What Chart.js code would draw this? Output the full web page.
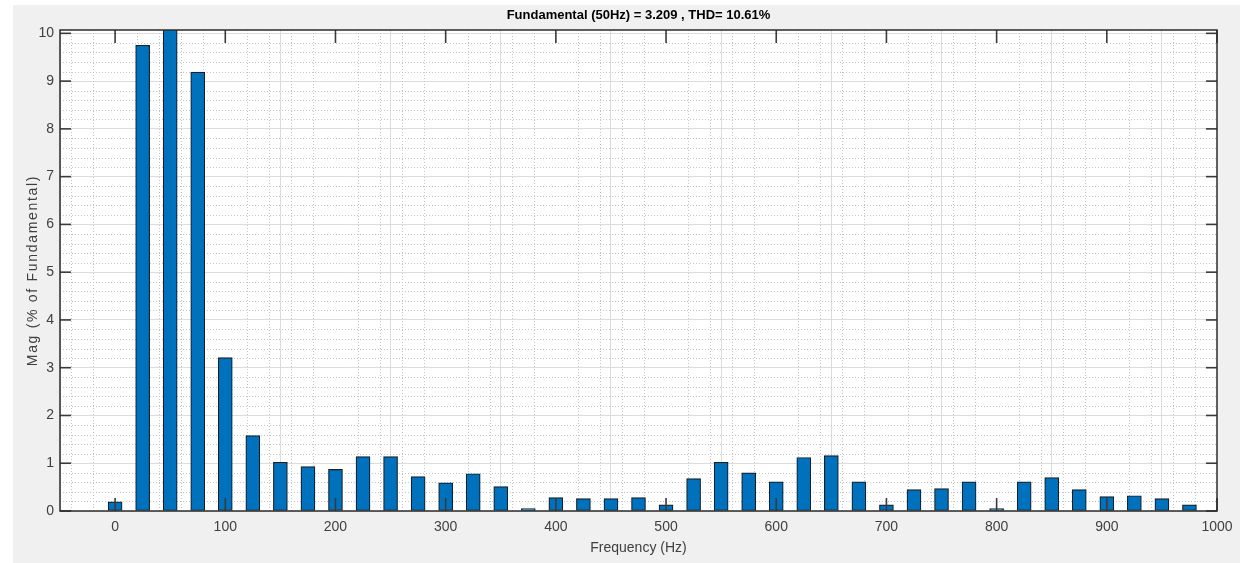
<!DOCTYPE html>
<html>
<head>
<meta charset="utf-8">
<script src="https://cdn.jsdelivr.net/npm/chart.js@4.4.0/dist/chart.umd.min.js"></script>
<style>
  html, body { margin: 0; padding: 0; background: #ffffff; }
  #wrap { position: relative; width: 1252px; height: 563px; }
</style>
</head>
<body>
<div id="wrap"><canvas id="fftChart" width="1252" height="563"></canvas></div>
<script>
// Harmonic spectrum
var freqs = [0, 25, 50, 75, 100, 125, 150, 175, 200, 225, 250, 275, 300, 325, 350, 375,
  400, 425, 450, 475, 500, 525, 550, 575, 600, 625, 650, 675, 700, 725, 750, 775,
  800, 825, 850, 875, 900, 925, 950, 975];
var mags = [0.19, 9.75, 10.5, 9.19, 3.21, 1.58, 1.02, 0.93, 0.87, 1.14, 1.14, 0.72, 0.59, 0.78, 0.51, 0.05,
  0.28, 0.26, 0.26, 0.28, 0.13, 0.68, 1.02, 0.80, 0.61, 1.12, 1.16, 0.61, 0.13, 0.45, 0.47, 0.61,
  0.05, 0.61, 0.70, 0.45, 0.30, 0.32, 0.26, 0.13];
var xTicks = [0, 100, 200, 300, 400, 500, 600, 700, 800, 900, 1000];
var yTicks = [0, 1, 2, 3, 4, 5, 6, 7, 8, 9, 10];

var fontFam = "'Liberation Sans Narrow', 'Liberation Sans', Arial, sans-serif";

// figure background, minor grid, axis box and inward ticks (MATLAB look)
var matlabAxes = {
  id: "matlabAxes",
  beforeDraw: function (chart) {
    var ctx = chart.ctx;
    ctx.save();
    ctx.fillStyle = "#f0f0f0";
    ctx.fillRect(13, 5, 1227, 558);
    var a = chart.chartArea;
    ctx.fillStyle = "#ffffff";
    ctx.fillRect(a.left, a.top, a.right - a.left, a.bottom - a.top);
    ctx.restore();
  },
  beforeDatasetsDraw: function (chart) {
    var ctx = chart.ctx, a = chart.chartArea;
    var xs = chart.scales.x, ys = chart.scales.y;
    ctx.save();
    ctx.strokeStyle = "#c4c4c4";
    ctx.lineWidth = 1;
    ctx.setLineDash([1, 2]);
    for (var f = -40; f < 1000; f += 20) {
      if (f % 100 === 0) continue;
      var px = Math.round(xs.getPixelForValue(f)) + 0.5;
      ctx.beginPath(); ctx.moveTo(px, a.top); ctx.lineTo(px, a.bottom); ctx.stroke();
    }
    for (var m = 1; m <= 50; m++) {
      if (m % 5 === 0) continue;
      var v = m / 5;
      if (v > ys.max) break;
      var py = Math.round(ys.getPixelForValue(v)) + 0.5;
      ctx.beginPath(); ctx.moveTo(a.left, py); ctx.lineTo(a.right, py); ctx.stroke();
    }
    ctx.restore();
  },
  afterDatasetsDraw: function (chart) {
    var ctx = chart.ctx, a = chart.chartArea;
    var xs = chart.scales.x, ys = chart.scales.y;
    ctx.save();
    ctx.strokeStyle = "#3a3a3a";
    ctx.lineWidth = 1.6;
    xTicks.forEach(function (t) {
      var px = xs.getPixelForValue(t);
      ctx.beginPath(); ctx.moveTo(px, a.bottom); ctx.lineTo(px, a.bottom - 13); ctx.stroke();
      ctx.beginPath(); ctx.moveTo(px, a.top); ctx.lineTo(px, a.top + 13); ctx.stroke();
    });
    yTicks.forEach(function (t) {
      var py = ys.getPixelForValue(t);
      ctx.beginPath(); ctx.moveTo(a.left, py); ctx.lineTo(a.left + 11, py); ctx.stroke();
      ctx.beginPath(); ctx.moveTo(a.right, py); ctx.lineTo(a.right - 11, py); ctx.stroke();
    });
    ctx.strokeStyle = "#2b2b2b";
    ctx.lineWidth = 1.5;
    ctx.strokeRect(a.left, a.top, a.right - a.left, a.bottom - a.top);
    ctx.restore();
  }
};

var ctx = document.getElementById("fftChart").getContext("2d");
var fftChart = new Chart(ctx, {
  type: "bar",
  data: {
    datasets: [
      {
        label: "Mag",
        data: freqs.map(function (f, i) { return { x: f, y: mags[i] }; }),
        backgroundColor: "#0072bd",
        borderColor: "#14202b",
        borderWidth: 1.2,
        borderSkipped: false,
        barThickness: 14,
        clip: 0
      }
    ]
  },
  options: {
    responsive: false,
    animation: false,
    layout: { padding: { left: 13, right: 35, top: 0, bottom: 0 } },
    plugins: {
      legend: { display: false },
      tooltip: { enabled: false },
      title: {
        display: true,
        fullSize: false,
        text: "Fundamental (50Hz) = 3.209 , THD= 10.61%",
        color: "#000000",
        font: { family: fontFam, size: 13, weight: "bold" },
        padding: { top: 8, bottom: 6.4 }
      }
    },
    scales: {
      x: {
        type: "linear",
        min: -50,
        max: 1000,
        offset: false,
        afterBuildTicks: function (s) { s.ticks = xTicks.map(function (v) { return { value: v }; }); },
        afterFit: function (s) { s.height = 52; },
        grid: { color: "#dcdcdc", lineWidth: 1, drawTicks: false },
        border: { display: false },
        ticks: {
          color: "#404040", padding: 8, maxRotation: 0,
          font: { family: fontFam, size: 14 },
          callback: function (v) { return String(v); }
        },
        title: {
          display: true,
          text: "Frequency (Hz)",
          color: "#404040",
          font: { family: fontFam, size: 14 },
          padding: { top: 0, bottom: 6 }
        }
      },
      y: {
        min: 0,
        max: 10.07,
        afterBuildTicks: function (s) { s.ticks = yTicks.map(function (v) { return { value: v }; }); },
        afterFit: function (s) { s.width = 47; },
        grid: { color: "#dcdcdc", lineWidth: 1, drawTicks: false },
        border: { display: false },
        ticks: {
          color: "#404040", padding: 6,
          font: { family: fontFam, size: 14 },
          callback: function (v) { return String(v); }
        },
        title: {
          display: true,
          text: "Mag (% of Fundamental)",
          color: "#404040",
          font: { family: "'Liberation Sans', Arial, sans-serif", size: 14 },
          padding: { top: 12, bottom: 0 }
        }
      }
    }
  },
  plugins: [matlabAxes]
});

// the y label in the original is spaced out a little
var yScale = fftChart.scales.y;
var origDrawTitle = yScale.drawTitle;
yScale.drawTitle = function () {
  this.ctx.save();
  this.ctx.letterSpacing = "1.7px";
  origDrawTitle.apply(this, arguments);
  this.ctx.restore();
};
fftChart.draw();
</script>
</body>
</html>
